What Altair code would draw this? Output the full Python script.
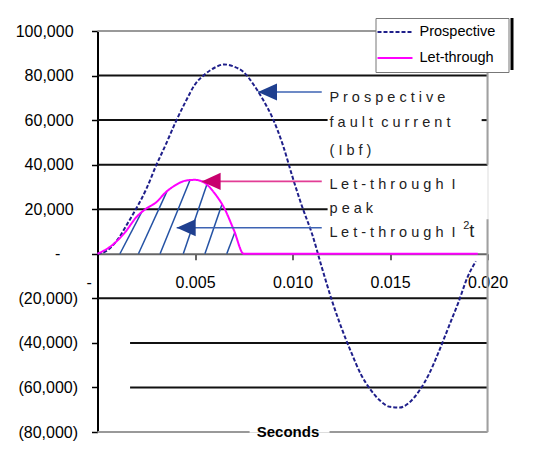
import altair as alt
import pandas as pd

FONT = "Liberation Sans"
NB = "\u00a0"
ZW = "\u200b"

# ---------------- data ----------------
# Prospective fault current (dotted navy)
t_prosp = [0, 0.0005, 0.001, 0.0015, 0.002, 0.0025, 0.003, 0.0035, 0.004, 0.0045,
           0.005, 0.0055, 0.006, 0.0065, 0.007, 0.0075, 0.008, 0.0085, 0.009, 0.0095,
           0.010, 0.0105, 0.011, 0.0115, 0.012, 0.0125, 0.013, 0.0135, 0.014, 0.0145,
           0.015, 0.0155, 0.016, 0.0165, 0.017, 0.0175, 0.018, 0.0185, 0.019, 0.0194]
i_prosp = [0, 1500, 6000, 13000, 20500, 29000, 39500, 49000, 59000, 68000,
           76000, 80500, 83500, 85000, 84000, 81500, 76000, 69000, 60500, 49000,
           34500, 21000, 9000, -6000, -20400, -33000, -44000, -54000, -61000, -66000,
           -68700, -69000, -66700, -61500, -54000, -44000, -33000, -22000, -10000, -3400]

# Let-through current (magenta)
t_let = [0, 0.0007, 0.0014, 0.002, 0.0025, 0.003, 0.0035, 0.004, 0.0045, 0.005,
         0.0055, 0.006, 0.0065, 0.007, 0.0075, 0.0195]
i_let = [0, 3500, 9500, 16500, 20300, 23000, 27600, 30800, 32800, 33200,
         31800, 27200, 20500, 10500, 0, 0]

series_names = ["Prospective", "Let-through"]
series_colors = ["#1f1f8a", "#ff00ff"]
series_dash = [[4, 2], [1, 0]]

x_ticks = [0, 0.005, 0.010, 0.015, 0.020]
y_ticks = [-80000, -60000, -40000, -20000, 0, 20000, 40000, 60000, 80000, 100000]

# I^2t hatching (start on the time axis, end on the let-through curve)
hatch_t0 = [0.00115, 0.00210, 0.00321, 0.00440, 0.00551, 0.00663]
hatch_t1 = [0.00227, 0.00356, 0.00474, 0.00560, 0.00638, 0.00705]
hatch_i1 = [18800, 28000, 33000, 30900, 22100, 9800]

# horizontal grid / frame segments
grid_i = [100000, 80000, 60000, 60000, 40000, 20000, -20000, -40000, -60000, -80000, -80000]
grid_t0 = [0, 0, 0, 0.0197, 0, 0, 0, 0.00167, 0.00167, 0, 0.0119]
grid_t1 = [0.02, 0.02, 0.0118, 0.02, 0.02, 0.0118, 0.02, 0.02, 0.02, 0.0078, 0.02]
grid_col = ["#999999", "#111111", "#111111", "#111111", "#111111", "#111111",
            "#111111", "#111111", "#111111", "#999999", "#999999"]

# right frame segments
frame_t = [0.02, 0.02]
frame_i0 = [100000, 15500]
frame_i1 = [40000, -80000]

# annotation arrows
arrow_tip_t = [0.00823, 0.00534, 0.00406]
arrow_tip_i = [72600, 32500, 11700]
arrow_tail_t = [0.0115, 0.0115, 0.0115]
arrow_shaft_col = ["#3d63b3", "#e23d95", "#3d63b3"]
arrow_head_col = ["#1f3f8f", "#c8006e", "#1f3f8f"]

# annotation texts
note_text = ["P r o s p e c t i v e",
             "f a u l t" + NB + " c u r r e n t",
             "( I b f )",
             "L e t - t h r o u g h" + NB + " I",
             "p e a k",
             "L e t - t h r o u g h" + NB + " I",
             "2",
             "t"]
note_t = [0.0119, 0.0119, 0.0119, 0.0119, 0.0119, 0.0119, 0.01875, 0.01907]
note_i = [69800, 58900, 46000, 30750, 19900, 9550, 12300, 9700]
note_size = [14.5, 14.5, 14.5, 14.5, 14.5, 14.5, 11, 18]

seconds_t = [0.00977]
seconds_i = [-80000]
seconds_text = ["Seconds"]

# ---------------- tables ----------------
curves = pd.concat([
    pd.DataFrame({"t": t_prosp, "i": i_prosp, "series": series_names[0]}),
    pd.DataFrame({"t": t_let, "i": i_let, "series": series_names[1]}),
])
hatch = pd.DataFrame({"t0": hatch_t0, "t1": hatch_t1, "i0": [0] * len(hatch_t0), "i1": hatch_i1})
grid = pd.DataFrame({"t0": grid_t0, "t1": grid_t1, "i0": grid_i, "i1": grid_i, "c": grid_col})
frame = pd.DataFrame({"t0": frame_t, "t1": frame_t, "i0": frame_i0, "i1": frame_i1,
                      "c": ["#a0a0a0"] * len(frame_t)})
segs = pd.concat([grid, frame])
arrows = pd.DataFrame({"tip": arrow_tip_t, "i": arrow_tip_i, "tail": arrow_tail_t,
                       "sc": arrow_shaft_col, "hc": arrow_head_col})
notes = pd.DataFrame({"t": note_t, "i": note_i, "text": note_text, "fs": note_size})
secs = pd.DataFrame({"t": seconds_t, "i": seconds_i, "text": seconds_text})

xs = alt.Scale(domain=[0, 0.02], nice=False, zero=False)
ys = alt.Scale(domain=[-80000, 100000], nice=False, zero=False)

x_axis = alt.Axis(
    values=x_ticks, title=None, grid=False, offset=-178.2,
    labelExpr="datum.value == 0 ? '-" + NB * 4 + ZW + "' : format(datum.value, '.3f')",
    tickSize=6, tickColor="#333333", tickWidth=1.5,
    domainColor="#666666", domainWidth=2,
    labelFont=FONT, labelFontSize=16, labelColor="#000000", labelPadding=15,
    labelFlush=False, labelOverlap=False,
)
y_axis = alt.Axis(
    values=y_ticks, title=None, grid=False,
    labelExpr="datum.value == 0 ? '-" + NB * 4 + ZW + "' : (datum.value > 0 ? format(datum.value, ',') + '" + NB + ZW +
              "' : '(' + format(-datum.value, ',') + ')')",
    tickSize=6, tickColor="#000000", tickWidth=1.5,
    domainColor="#000000", domainWidth=2,
    labelFont=FONT, labelFontSize=16, labelColor="#000000", labelPadding=14,
    labelOverlap=False,
)


def X(field):
    return alt.X(field, scale=xs, axis=x_axis)


def Y(field):
    return alt.Y(field, scale=ys, axis=y_axis)


legend = alt.Legend(
    title=None, orient="none", legendX=278, legendY=-13,
    symbolType="stroke", symbolSize=1225, symbolStrokeWidth=2, clipHeight=26,
    rowPadding=0, padding=1, labelOffset=6,
    labelFont=FONT, labelFontSize=14.5, labelColor="#000000",
    labelExpr="datum.label + '" + NB * 3 + ZW + "'",
    fillColor="#ffffff", strokeColor="#777777",
)

grid_layer = alt.Chart(segs).mark_rule(strokeWidth=2).encode(
    x=X("t0:Q"), x2="t1",
    y=Y("i0:Q"), y2="i1",
    color=alt.Color("c:N", scale=None),
)

hatch_layer = alt.Chart(hatch).mark_rule(strokeWidth=1.5, color="#2452a4").encode(
    x=X("t0:Q"), x2="t1",
    y=Y("i0:Q"), y2="i1",
)

curve_layer = alt.Chart(curves).mark_line(strokeWidth=2, interpolate="monotone").encode(
    x=X("t:Q"),
    y=Y("i:Q"),
    color=alt.Color("series:N", scale=alt.Scale(domain=series_names, range=series_colors),
                    sort=series_names, legend=legend),
    strokeDash=alt.StrokeDash("series:N", scale=alt.Scale(domain=series_names, range=series_dash),
                              sort=series_names, legend=legend),
    order=alt.Order("t:Q"),
)

shaft_layer = alt.Chart(arrows).mark_rule(strokeWidth=1.6).encode(
    x=X("tip:Q"), x2="tail",
    y=Y("i:Q"),
    color=alt.Color("sc:N", scale=None),
)

head_layer = alt.Chart(arrows).mark_point(
    shape="M 0 0 L 2 -0.9 L 2 0.9 Z", filled=True, size=361, opacity=1, strokeWidth=0
).encode(
    x=X("tip:Q"),
    y=Y("i:Q"),
    color=alt.Color("hc:N", scale=None),
)

note_layer = alt.Chart(notes).mark_text(align="left", baseline="middle", font=FONT, color="#222222").encode(
    x=X("t:Q"),
    y=Y("i:Q"),
    text="text:N",
    size=alt.Size("fs:Q", scale=None),
)

sec_layer = alt.Chart(secs).mark_text(align="center", baseline="middle", font=FONT,
                                      fontSize=15, fontWeight="bold", color="#000000").encode(
    x=X("t:Q"),
    y=Y("i:Q"),
    text="text:N",
)

shadow_layer = alt.Chart(pd.DataFrame({"k": [0]})).mark_rule(color="#000000", strokeWidth=3).encode(
    x=alt.value(414.5), y=alt.value(-13), y2=alt.value(39),
)

chart = alt.layer(
    grid_layer, hatch_layer, curve_layer, shaft_layer, head_layer, note_layer, sec_layer, shadow_layer
).properties(
    width=390, height=401,
    padding={"left": 89.5, "top": 23, "right": 30, "bottom": 30},
    autosize=alt.AutoSizeParams(type="none"),
).configure_view(stroke=None).configure(font=FONT, background="#ffffff")

chart.save("out.html", embed_options={"renderer": "svg", "actions": False})
